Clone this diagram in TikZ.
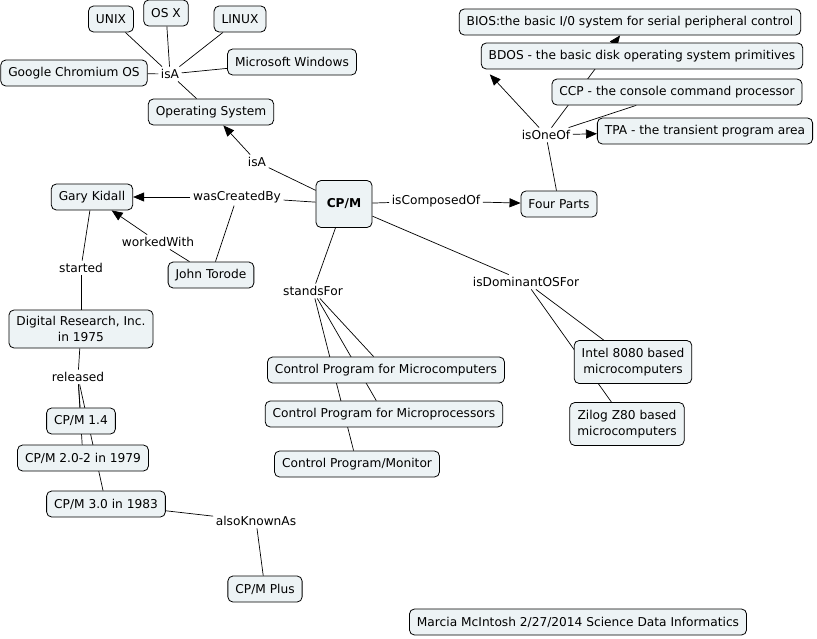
\documentclass[tikz,border=0pt]{standalone}
\usepackage{fontspec}
\setmainfont{DejaVu Sans}
\usetikzlibrary{arrows.meta,backgrounds}
\definecolor{boxfill}{RGB}{237,243,245}

\begin{document}
\begin{tikzpicture}[x=1pt,y=-1pt,
  cbox/.style={draw,rounded corners=5pt,fill=boxfill,line width=0.8pt,inner xsep=7.5pt,inner ysep=3pt,minimum height=26pt,align=center,font=\fontsize{12.2}{16}\selectfont},
  lbl/.style={inner sep=2.5pt,font=\fontsize{12.2}{14}\selectfont},
  con/.style={line width=0.7pt},
  arr/.style={con,-{Triangle[length=11pt,width=9pt]}}]
\useasboundingbox (0,0) rectangle (817,638);

\node[cbox] (unix) at (111,19) {UNIX};
\node[cbox] (osx) at (166,13) {OS X};
\node[cbox] (linux) at (240,19) {LINUX};
\node[cbox] (mswin) at (292,62) {Microsoft Windows};
\node[cbox] (chrome) at (74,73) {Google Chromium OS};
\node[lbl] (isa) at (170,74) {isA};
\node[cbox] (os) at (211,112) {Operating System};
\node[lbl] (isacpm) at (257,162) {isA};

\node[cbox,font=\fontsize{12.2}{14}\selectfont\bfseries,minimum width=56pt,minimum height=47pt] (cpm) at (344,204) {CP/M};
\node[lbl] (created) at (237,197) {wasCreatedBy};
\node[cbox] (gary) at (92,197) {Gary Kidall};
\node[lbl] (worked) at (158,242) {workedWith};
\node[cbox] (john) at (211,275) {John Torode};
\node[lbl] (started) at (81,268) {started};
\node[cbox,minimum height=38pt] (dri) at (81,329) {Digital Research, Inc.\\in 1975};
\node[lbl] (released) at (78,377) {released};
\node[cbox] (v14) at (81,421) {CP/M 1.4};
\node[cbox] (v20) at (83,458) {CP/M 2.0-2 in 1979};
\node[cbox] (v30) at (106,504) {CP/M 3.0 in 1983};
\node[lbl] (aka) at (256,521) {alsoKnownAs};
\node[cbox] (plus) at (265,589) {CP/M Plus};

\node[lbl] (composed) at (436,201) {isComposedOf};
\node[cbox] (four) at (559,204) {Four Parts};
\node[lbl] (oneof) at (546,135) {isOneOf};
\node[cbox] (bios) at (630,22) {BIOS:the basic I/0 system for serial peripheral control};
\node[cbox] (bdos) at (642,56) {BDOS - the basic disk operating system primitives};
\node[cbox] (ccp) at (677,92) {CCP - the console command processor};
\node[cbox] (tpa) at (705,131) {TPA - the transient program area};

\node[lbl] (stands) at (313,291) {standsFor};
\node[cbox] (micro) at (386,370) {Control Program for Microcomputers};
\node[cbox] (proc) at (384,414) {Control Program for Microprocessors};
\node[cbox] (mon) at (357,464) {Control Program/Monitor};

\node[lbl] (dominant) at (526,282) {isDominantOSFor};
\node[cbox,minimum height=43pt] (intel) at (633,362) {Intel 8080 based\\microcomputers};
\node[cbox,minimum height=43pt] (zilog) at (627,424) {Zilog Z80 based\\microcomputers};

\node[cbox] (author) at (578,622) {Marcia McIntosh 2/27/2014 Science Data Informatics};

\begin{pgfonlayer}{background}
\draw[con] (os) -- (isa);
\draw[con] (isa) -- (chrome);
\draw[con] (isa) -- (unix);
\draw[con] (isa) -- (osx);
\draw[con] (isa) -- (linux);
\draw[con] (isa) -- (mswin);
\draw[con] (cpm) -- (isacpm);
\draw[arr] (isacpm) -- (os);

\draw[con] (cpm) -- (created);
\draw[arr] (created) -- (gary);
\draw[con] (john) -- (created);
\draw[con] (john) -- (worked);
\draw[arr] (worked) -- (gary);
\draw[con] (gary) -- (started);
\draw[con] (started) -- (dri);
\draw[con] (dri) -- (released);
\draw[con] (released) -- (v14);
\draw[con] (released) -- (v20);
\draw[con] (released) -- (v30);
\draw[con] (v30) -- (aka);
\draw[con] (aka) -- (plus);

\draw[con] (cpm) -- (composed);
\draw[arr] (composed) -- (four);
\draw[con] (four) -- (oneof);
\draw[arr] (oneof) -- (bios);
\draw[arr] (oneof) -- ([xshift=9pt,yshift=-5pt]bdos.south west);
\draw[con] (oneof) -- (ccp);
\draw[arr] (oneof) -- (tpa);

\draw[con] (cpm) -- (stands);
\draw[con] (stands) -- (micro);
\draw[con] (stands) -- (proc);
\draw[con] (stands) -- (mon);

\draw[con] (cpm) -- (dominant);
\draw[con] (dominant) -- (intel);
\draw[con] (dominant) -- (zilog);
\end{pgfonlayer}
\end{tikzpicture}
\end{document}
